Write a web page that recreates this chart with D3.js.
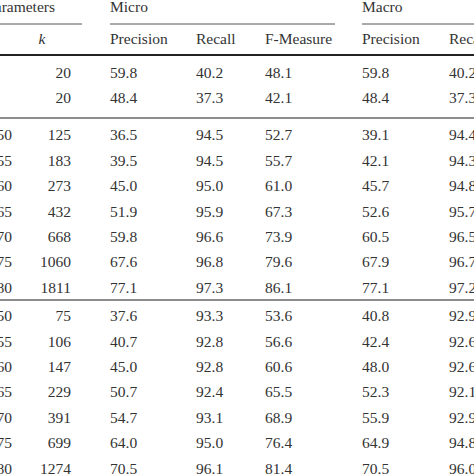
<!DOCTYPE html>
<html>
<head>
<meta charset="utf-8">
<script src="https://cdn.jsdelivr.net/npm/d3@7"></script>
<style>
  body { margin: 0; background: #fff; }
  svg { display: block; }
</style>
</head>
<body>
<div id="chart"></div>
<script>
// table data (rows: 2 baselines, then two threshold sweeps)
const group = [0, 0, 1, 1, 1, 1, 1, 1, 1, 2, 2, 2, 2, 2, 2, 2];
const threshold = ['', '', '0.50', '0.55', '0.60', '0.65', '0.70', '0.75', '0.80',
                   '0.50', '0.55', '0.60', '0.65', '0.70', '0.75', '0.80'];
const kValues = [20, 20, 125, 183, 273, 432, 668, 1060, 1811, 75, 106, 147, 229, 391, 699, 1274];
const microPrecision = ['59.8', '48.4', '36.5', '39.5', '45.0', '51.9', '59.8', '67.6', '77.1',
                        '37.6', '40.7', '45.0', '50.7', '54.7', '64.0', '70.5'];
const microRecall = ['40.2', '37.3', '94.5', '94.5', '95.0', '95.9', '96.6', '96.8', '97.3',
                     '93.3', '92.8', '92.8', '92.4', '93.1', '95.0', '96.1'];
const microF = ['48.1', '42.1', '52.7', '55.7', '61.0', '67.3', '73.9', '79.6', '86.1',
                '53.6', '56.6', '60.6', '65.5', '68.9', '76.4', '81.4'];
const macroPrecision = ['59.8', '48.4', '39.1', '42.1', '45.7', '52.6', '60.5', '67.9', '77.1',
                        '40.8', '42.4', '48.0', '52.3', '55.9', '64.9', '70.5'];
const macroRecall = ['40.2', '37.3', '94.4', '94.3', '94.8', '95.7', '96.5', '96.7', '97.2',
                     '92.9', '92.6', '92.6', '92.1', '92.9', '94.8', '96.0'];
const subHeaders = ['Precision', 'Recall', 'F-Measure', 'Precision', 'Recall'];

const width = 474, height = 474;
const svg = d3.select('#chart').append('svg')
  .attr('width', width).attr('height', height)
  .style('font-family', '"Liberation Serif", "DejaVu Serif", serif')
  .style('font-size', '15.5px');

const ink = '#333';
const groupGap = [0, 12, 15];
const y = d3.scaleLinear().domain([0, 15]).range([74, 74 + 15 * 25.4]);
const rowY = (i) => y(i) + groupGap[group[i]];

// header (the reference is cropped, so edge texts run off the picture)
svg.append('text').attr('x', 55).attr('y', 8).attr('text-anchor', 'end')
  .attr('dominant-baseline', 'middle').attr('fill', ink).text('Parameters');
svg.append('text').attr('x', 110).attr('y', 8)
  .attr('dominant-baseline', 'middle').attr('fill', ink).text('Micro');
svg.append('text').attr('x', 362).attr('y', 8)
  .attr('dominant-baseline', 'middle').attr('fill', ink).text('Macro');

const rule = (x1, x2, yy, w, c) => svg.append('line')
  .attr('x1', x1).attr('x2', x2).attr('y1', yy).attr('y2', yy)
  .attr('stroke', c || '#555').attr('stroke-width', w || 1);
rule(-5, 82, 24);
rule(110, 335, 24);
rule(362, 480, 24);

svg.append('text').attr('x', 42).attr('y', 40).attr('text-anchor', 'middle')
  .attr('dominant-baseline', 'middle').attr('fill', ink)
  .style('font-style', 'italic').text('k');
const colX = [110, 196, 265, 362, 449];
subHeaders.forEach((h, j) => {
  svg.append('text').attr('x', colX[j]).attr('y', 40)
    .attr('dominant-baseline', 'middle').attr('fill', ink).text(h);
});
rule(-5, 480, 55, 2.2, '#222');
rule(-5, 480, 118, 1.6, '#666');
rule(-5, 480, 300, 1.6, '#666');

// body
const cols = [microPrecision, microRecall, microF, macroPrecision, macroRecall];
kValues.forEach((k, i) => {
  const yy = rowY(i);
  svg.append('text').attr('x', 12).attr('y', yy).attr('text-anchor', 'end')
    .attr('dominant-baseline', 'middle').attr('fill', ink).text(threshold[i]);
  svg.append('text').attr('x', 71).attr('y', yy).attr('text-anchor', 'end')
    .attr('dominant-baseline', 'middle').attr('fill', ink).text(k);
  cols.forEach((col, j) => {
    svg.append('text').attr('x', colX[j]).attr('y', yy)
      .attr('dominant-baseline', 'middle').attr('fill', ink).text(col[i]);
  });
});
</script>
</body>
</html>
